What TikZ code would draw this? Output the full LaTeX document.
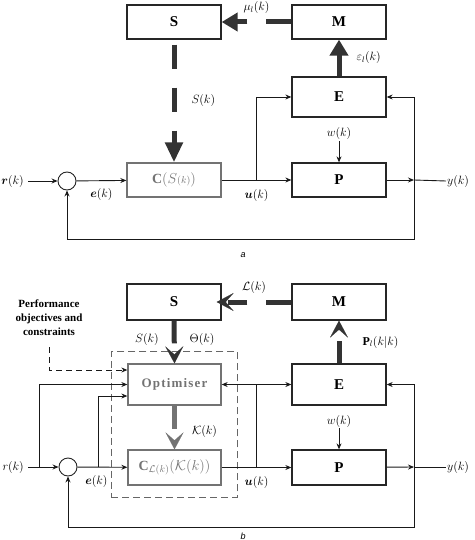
\documentclass[tikz,border=0pt]{standalone}
\usepackage{amsmath}
\usepackage{bm}
\usepackage{fontspec}
\setmainfont{Liberation Serif}
\newfontfamily\capfont{Liberation Sans}
\usepackage{xcolor}
\usepackage{tikz}
\usetikzlibrary{arrows.meta, positioning, fit, decorations.markings}

\begin{document}
\begin{tikzpicture}[x=1pt, y=-1pt,
        blk/.style={rectangle, draw=black!85, line width=1.3pt, minimum width=94pt, minimum height=34pt, inner sep=0pt, font=\fontsize{15}{18}\selectfont\bfseries},
        gblk/.style={blk, draw=black!55, text=black!55},
        sumnode/.style={circle, draw=black!85, line width=0.9pt, minimum size=18pt, inner sep=0pt},
        lbl/.style={inner sep=1pt, font=\fontsize{12}{14}\selectfont},
        sig/.style={draw=black!90, line width=0.9pt, -{Stealth[length=6pt,width=5pt]}},
        wire/.style={draw=black!90, line width=0.9pt},
        fat/.style={draw=black!80, line width=5pt, -{Triangle[length=16pt,width=18pt]}},
        fatb/.style={draw=#1, line width=5pt, shorten >=20pt, postaction={decorate},
            decoration={markings, mark=at position 1 with {\arrow[#1, line width=0.1pt]{Stealth[length=17pt,width=18pt,inset=8pt]}}}},
        fatb/.default=black!80,
        bigdash/.style={dash pattern=on 25pt off 19pt}]
    \useasboundingbox (0,0) rectangle (474,540);

    % Nodes (a)
    \node [blk] (sa) at (174,22) {S};
    \node [blk] (ma) at (339,22) {M};
    \node [blk, minimum height=40pt] (ea) at (339,97) {E};
    \node [blk] (pa) at (339,180) {P};
    \node [gblk, font=\fontsize{14}{16}\selectfont] (ca) at (174,180) {$\mathbf{C}(S{\scriptstyle(k)})$};
    \node [sumnode] (suma) at (67,181) {};
    \node [lbl, anchor=east] (ra) at (25,181) {$\bm{r}(k)$};
    \node [lbl, anchor=west] (ya) at (446,181) {$y(k)$};
    \node [lbl] (wa) at (339,134) {$w(k)$};
    \coordinate (ua) at (256,180);
    \coordinate (ja) at (414,180);
    \node [font=\capfont\itshape\small] (capa) at (243,255) {a};

    % Edges (a)
    \path [sig] ([xshift=3pt]ra.east) -- (suma);
    \path [sig] (suma) -- node[lbl, below=6pt] {$\bm{e}(k)$} (ca);
    \path [sig] (ca) -- node[lbl, below=8pt] {$\bm{u}(k)$} (pa);
    \path [sig] (ua) |- (ea);
    \path [sig] (pa) -- (ja);
    \path [wire] (ja) -- (ya.west);
    \path [sig] (ja) |- (ea.east);
    \path [sig] (ja) -- ++(0,59) -| (suma.south);
    \path [sig] (wa) -- (pa);
    \path [fat] (ea) -- node[lbl, right=14pt] {$\varepsilon_l(k)$} (ma);
    \path [fat, bigdash] (ma) -- node[lbl, above=5pt] {$\mu_l(k)$} (sa);
    \path [fat, dash pattern=on 24pt off 19pt, shorten <=5pt, -{Triangle[length=20pt,width=17pt]}] (sa) -- node[lbl, right=14pt] {$S(k)$} (ca);

    % Nodes (b)
    \node [blk, minimum height=36pt] (sb) at (174,302) {S};
    \node [blk, minimum height=36pt] (mb) at (339,302) {M};
    \node [blk, minimum height=41pt] (eb) at (339,384.5) {E};
    \node [blk, minimum height=35pt] (pb) at (339,467.5) {P};
    \node [gblk, minimum width=93pt, minimum height=41pt, font=\fontsize{13}{15}\selectfont\bfseries\addfontfeature{LetterSpace=9}] (opt) at (174.5,384.5) {Optimiser};
    \node [gblk, minimum width=93pt, minimum height=35pt, font=\fontsize{14}{16}\selectfont] (cb) at (174.5,467.5) {$\mathbf{C}_{\mathcal{L}(k)}(\mathcal{K}(k))$};
    \node [draw=black!60, dash pattern=on 7pt off 4pt, line width=1pt, inner xsep=16pt, inner ysep=11.5pt, fit=(opt)(cb)] (optbox) {};
    \node [sumnode] (sumb) at (68,467) {};
    \node [lbl, anchor=east] (rb) at (25,467) {$r(k)$};
    \node [lbl, anchor=west] (yb) at (446,467) {$y(k)$};
    \node [lbl] (wb) at (339,421) {$w(k)$};
    \node [align=center, font=\fontsize{11}{14}\selectfont\bfseries] (perf) at (49,318) {Performance\\objectives and\\constraints};
    \coordinate (rjb) at (39,467);
    \coordinate (ejb) at (98,467);
    \coordinate (ub) at (256,467);
    \coordinate (jb) at (414,467);
    \node [font=\capfont\itshape\small] (capb) at (243,536) {b};

    % Edges (b)
    \path [sig] ([xshift=3pt]rb.east) -- (sumb);
    \path [sig] (rjb) |- (opt.west);
    \path [sig] (sumb) -- node[lbl, pos=0.38, below=7pt] {$\bm{e}(k)$} (cb);
    \path [sig] (ejb) |- ([yshift=-11.5pt]opt.west);
    \path [sig, dash pattern=on 6pt off 4pt] ([yshift=-8pt]perf.south) |- ([yshift=14.5pt]opt.west);
    \path [sig] (cb) -- node[lbl, below=8pt] {$\bm{u}(k)$} (pb);
    \path [sig] (ub) |- (eb);
    \path [sig] (ub |- eb.west) -- (opt.east);
    \path [sig] (pb) -- (jb);
    \path [wire] (jb) -- (yb.west);
    \path [sig] (jb) |- (eb.east);
    \path [sig] (jb) -- ++(0,60) -| (sumb.south);
    \path [sig] (wb) -- (pb);
    \path [fatb] (eb.north) -- node[lbl, right=20pt] {$\mathbf{P}_l(k|k)$} (mb.south);
    \path [fatb, bigdash, shorten >=11pt] (mb.west) -- node[lbl, above=5pt] {$\mathcal{L}(k)$} ([xshift=-5pt]sb.east);
    \path [fatb] (sb.south) -- node[lbl, pos=0.45, left=12pt] {$S(k)$} node[lbl, pos=0.45, right=12pt] {$\Theta(k)$} (opt.north);
    \path [fatb=black!55] (opt.south) -- node[lbl, pos=0.6, right=14pt] {$\mathcal{K}(k)$} (cb.north);
\end{tikzpicture}
\end{document}
